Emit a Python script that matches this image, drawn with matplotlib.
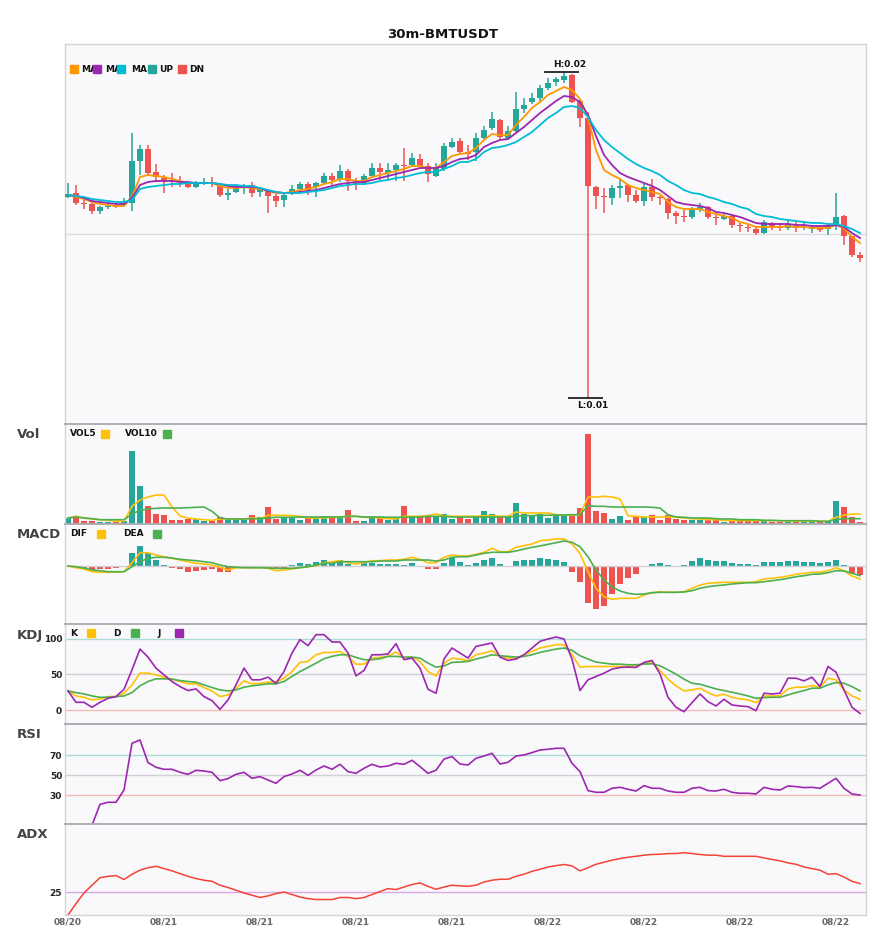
import matplotlib
matplotlib.use("Agg")
import matplotlib.pyplot as plt
import numpy as np
from matplotlib.patches import Rectangle

# ---- data: 100 x 30m candles, prices in units of 1e-5 USDT ----
tick_labels = ["08/20", "08/21", "08/21", "08/21", "08/21",
               "08/22", "08/22", "08/22", "08/22"]

open_e5 = [1611, 1623, 1593, 1590, 1569, 1581, 1584, 1587, 1593, 1719,
           1755, 1686, 1668, 1662, 1659, 1653, 1641, 1650, 1653, 1644,
           1617, 1626, 1638, 1647, 1626, 1629, 1614, 1602, 1626, 1635,
           1650, 1641, 1653, 1674, 1662, 1689, 1653, 1653, 1674, 1698,
           1683, 1692, 1707, 1707, 1725, 1704, 1674, 1695, 1761, 1779,
           1746, 1746, 1788, 1818, 1842, 1788, 1809, 1875, 1896, 1908,
           1938, 1956, 1962, 1977, 1899, 1848, 1641, 1614, 1608, 1638,
           1647, 1617, 1599, 1641, 1611, 1605, 1563, 1554, 1551, 1575,
           1581, 1551, 1545, 1554, 1527, 1521, 1515, 1503, 1533, 1524,
           1518, 1524, 1518, 1515, 1521, 1515, 1530, 1554, 1494, 1437]
close_e5 = [1620, 1593, 1590, 1569, 1581, 1584, 1581, 1593, 1719, 1755,
            1683, 1671, 1659, 1659, 1656, 1641, 1653, 1653, 1650, 1617,
            1623, 1638, 1647, 1623, 1635, 1614, 1599, 1617, 1635, 1650,
            1632, 1653, 1674, 1662, 1689, 1659, 1650, 1674, 1698, 1686,
            1692, 1707, 1704, 1728, 1704, 1680, 1701, 1764, 1776, 1746,
            1740, 1788, 1812, 1845, 1791, 1809, 1875, 1887, 1908, 1938,
            1953, 1965, 1974, 1896, 1848, 1644, 1614, 1611, 1638, 1644,
            1617, 1599, 1641, 1611, 1608, 1563, 1554, 1551, 1575, 1581,
            1551, 1548, 1554, 1527, 1524, 1518, 1503, 1536, 1521, 1518,
            1530, 1518, 1521, 1521, 1512, 1527, 1551, 1494, 1437, 1428]
high_e5 = [1653, 1647, 1608, 1593, 1584, 1593, 1593, 1608, 1803, 1767,
           1767, 1710, 1677, 1683, 1674, 1659, 1659, 1668, 1671, 1653,
           1638, 1650, 1650, 1656, 1641, 1635, 1626, 1623, 1647, 1656,
           1656, 1656, 1683, 1683, 1707, 1695, 1668, 1680, 1713, 1713,
           1713, 1713, 1758, 1743, 1740, 1713, 1713, 1773, 1788, 1788,
           1767, 1803, 1824, 1866, 1845, 1824, 1926, 1908, 1923, 1947,
           1968, 1971, 1986, 1980, 1902, 1866, 1644, 1638, 1647, 1668,
           1650, 1632, 1650, 1665, 1614, 1608, 1569, 1572, 1581, 1593,
           1584, 1560, 1560, 1557, 1536, 1530, 1521, 1542, 1536, 1533,
           1539, 1536, 1539, 1527, 1524, 1533, 1623, 1557, 1494, 1446]
low_e5 = [1608, 1587, 1575, 1560, 1560, 1575, 1578, 1581, 1569, 1677,
          1677, 1656, 1623, 1641, 1641, 1638, 1638, 1647, 1641, 1611,
          1602, 1623, 1620, 1611, 1611, 1563, 1581, 1581, 1617, 1623,
          1617, 1611, 1650, 1647, 1656, 1629, 1632, 1647, 1671, 1662,
          1662, 1659, 1659, 1701, 1701, 1656, 1671, 1689, 1758, 1737,
          1722, 1719, 1785, 1812, 1785, 1782, 1806, 1863, 1890, 1899,
          1932, 1944, 1953, 1893, 1821, 1008, 1575, 1563, 1587, 1608,
          1596, 1593, 1584, 1599, 1587, 1545, 1530, 1536, 1545, 1566,
          1545, 1527, 1542, 1518, 1506, 1506, 1497, 1500, 1512, 1509,
          1512, 1506, 1512, 1503, 1506, 1497, 1512, 1467, 1431, 1416]

ma5_e5 = [1617, 1611, 1605, 1596, 1590, 1587, 1584, 1584, 1611, 1671,
          1677, 1674, 1671, 1665, 1659, 1653, 1653, 1653, 1653, 1644,
          1638, 1638, 1641, 1638, 1635, 1629, 1623, 1623, 1626, 1632,
          1635, 1641, 1650, 1656, 1665, 1665, 1659, 1659, 1671, 1677,
          1683, 1689, 1695, 1704, 1704, 1698, 1698, 1716, 1734, 1740,
          1743, 1758, 1782, 1800, 1797, 1797, 1827, 1851, 1878, 1896,
          1917, 1929, 1941, 1932, 1905, 1851, 1752, 1692, 1677, 1665,
          1647, 1638, 1632, 1626, 1620, 1596, 1581, 1575, 1575, 1575,
          1566, 1560, 1554, 1548, 1536, 1530, 1521, 1521, 1521, 1521,
          1524, 1521, 1521, 1518, 1518, 1518, 1527, 1518, 1491, 1473]
ma10_e5 = [1617, 1614, 1608, 1599, 1596, 1593, 1590, 1590, 1608, 1647,
           1656, 1659, 1659, 1659, 1656, 1656, 1653, 1653, 1653, 1650,
           1644, 1641, 1641, 1641, 1638, 1629, 1626, 1623, 1623, 1626,
           1629, 1632, 1638, 1644, 1650, 1653, 1656, 1656, 1662, 1668,
           1674, 1680, 1686, 1692, 1698, 1698, 1698, 1704, 1716, 1725,
           1728, 1737, 1761, 1773, 1782, 1785, 1803, 1821, 1842, 1863,
           1881, 1899, 1914, 1911, 1896, 1857, 1794, 1737, 1707, 1683,
           1671, 1662, 1653, 1644, 1632, 1614, 1596, 1590, 1587, 1584,
           1578, 1566, 1563, 1557, 1551, 1542, 1533, 1530, 1530, 1530,
           1530, 1527, 1527, 1524, 1524, 1524, 1527, 1521, 1503, 1488]
ma20_e5 = [1617, 1614, 1611, 1605, 1602, 1599, 1596, 1596, 1602, 1635,
           1641, 1644, 1647, 1650, 1650, 1653, 1653, 1653, 1653, 1650,
           1647, 1647, 1644, 1644, 1638, 1632, 1626, 1623, 1623, 1623,
           1626, 1629, 1632, 1638, 1644, 1647, 1650, 1650, 1653, 1659,
           1662, 1668, 1671, 1677, 1683, 1686, 1686, 1695, 1704, 1716,
           1716, 1725, 1746, 1758, 1761, 1767, 1776, 1791, 1806, 1827,
           1848, 1863, 1881, 1884, 1878, 1851, 1812, 1782, 1761, 1743,
           1725, 1710, 1698, 1689, 1677, 1659, 1647, 1632, 1623, 1620,
           1611, 1605, 1596, 1590, 1581, 1575, 1560, 1554, 1551, 1545,
           1542, 1539, 1536, 1533, 1533, 1530, 1530, 1524, 1515, 1503]

volume = [6, 8, 3, 3, 2, 2, 2, 3, 73, 38,
          18, 10, 9, 4, 4, 5, 5, 3, 3, 7,
          4, 4, 4, 9, 7, 17, 5, 7, 7, 4,
          6, 7, 8, 8, 8, 14, 3, 3, 8, 7,
          4, 7, 18, 7, 7, 7, 7, 10, 5, 7,
          5, 7, 13, 10, 8, 8, 21, 10, 8, 10,
          6, 9, 8, 9, 16, 90, 13, 11, 5, 8,
          4, 8, 7, 9, 4, 9, 5, 4, 4, 4,
          4, 4, 2, 3, 3, 3, 3, 4, 2, 2,
          2, 2, 2, 2, 2, 3, 23, 17, 7, 2]
vol5 = [6, 7.7, 6, 5, 4.3, 3.7, 2.7, 2.7, 17.7, 24,
        27, 29, 29, 17, 8, 6, 5, 4.3, 3.7, 5,
        5, 5, 5, 6, 5.3, 8.7, 8.7, 8.7, 8.3, 7.7,
        6, 6, 6, 6.7, 6.7, 7.7, 7.7, 6.7, 6.7, 6,
        5.3, 5, 7.7, 7.7, 7.7, 8.3, 10, 8.3, 7.7, 7.7,
        7.7, 7.7, 8.3, 8.3, 7.7, 7.7, 12, 11, 11, 11,
        11, 9.3, 8.7, 8.7, 9.3, 27, 27, 27.7, 27, 25,
        8.3, 7.7, 7, 7, 7, 7, 6.7, 6, 5.3, 5,
        4.3, 4.3, 3.7, 3.3, 3.3, 3.3, 3.3, 3.3, 3.3, 3.3,
        2.7, 2.7, 2.7, 2.7, 2.7, 2.7, 6.7, 8.7, 10, 10]
vol10 = [6, 7, 6, 5.3, 4.3, 4.3, 4.3, 4.3, 10, 13.7,
         15, 15.7, 16, 16, 16, 16.3, 16.7, 17, 12.7, 6,
         5, 5, 5, 5.3, 5.3, 6, 6.7, 6.7, 6.7, 7,
         7, 7, 7, 7, 7, 7.7, 7.7, 7, 7, 7,
         6.7, 6.7, 6.7, 7, 7, 7.7, 7.7, 7.7, 7, 7,
         7, 7, 7, 7, 7, 7, 7.7, 8.3, 8.3, 8.7,
         8.7, 9, 9, 9.3, 9.3, 18.3, 17.7, 17.7, 17, 17,
         17, 17, 17, 16.7, 16, 9.3, 7, 6.7, 6, 6,
         6, 5.3, 5, 5, 4.3, 4.3, 4.3, 3.7, 3.7, 3.3,
         3.3, 3.3, 3.3, 3.3, 2.7, 2.7, 4.3, 5.3, 5.3, 5.3]

macd_hist = [0, -2.3, -3.3, -4, -3.3, -2.7, -1.7, 0, 13.3, 20,
             13.3, 6, 1, -1.7, -3.3, -5.7, -4.7, -4, -3.3, -5.7,
             -5.7, -1.7, -1.7, -1.7, -1.7, -2.3, -2.3, -1.7, 1, 2.7,
             2, 3.7, 6, 3.3, 6, 2, -0.7, 2.7, 2.7, 2,
             2, 2, 1, 3.3, 0, -3.3, -3.3, 2.7, 7.7, 3.7,
             1, 2.7, 6, 7.7, 1.7, 0, 5, 6, 6, 7.7,
             6.7, 6, 3.7, -5.7, -15.7, -37.3, -43.3, -39.7, -28.3, -18.3,
             -12.3, -8.3, 0, 2, 3.3, 1, 0, 0.7, 5, 8.3,
             6, 5, 5, 3.3, 2, 2, 1, 4, 4, 4,
             5, 5, 4, 4, 3.3, 4, 6, 1, -7.3, -9]
dif = [0, -1.7, -3, -5.7, -6.3, -6.3, -6.3, -5.7, 3.3, 13.3,
       13.3, 11, 9.3, 7.7, 6, 4.3, 2.7, 2, 1, -1.3,
       -4, -1.7, -1.7, -1.7, -1.7, -2.3, -4.7, -4, -3, -1.7,
       -0.7, 0.3, 3.3, 4.3, 5.3, 3.3, 2, 3.3, 5.3, 5.3,
       6, 6, 6.7, 8.7, 6.7, 3.3, 3.3, 8.7, 11, 10,
       10, 11.7, 13.7, 17.7, 14.3, 14.3, 18.7, 20.3, 22, 25.3,
       26, 27, 27, 22, 12.7, -5.7, -22.3, -30.7, -33.3, -32.3,
       -32.3, -32.3, -29, -26.7, -25.7, -26.3, -26.3, -25.7, -22.3, -19,
       -17.3, -16.7, -16.3, -16.3, -16.3, -16.3, -15.7, -13, -12.3, -11.3,
       -10, -8.3, -7.3, -6.3, -6.3, -4.7, -1.7, -4.7, -10, -13]
dea = [0, -0.7, -2, -4, -4.7, -5.7, -5.7, -5.7, -0.7, 4.3,
       7.7, 8.7, 8.7, 8, 6.7, 6, 5.3, 4.3, 3.3, 1,
       -0.7, -1.3, -1.7, -1.7, -1.7, -2, -2.3, -2.3, -2.3, -1.7,
       -0.7, 1, 2.7, 2.7, 4.3, 4.3, 4.3, 4.3, 4.3, 5,
       5, 5, 6, 6, 6, 6, 5, 6, 8.7, 9.3,
       9.3, 11, 12.7, 13.7, 13.7, 13.7, 15, 17, 18.7, 20,
       21.7, 23.3, 25, 23.7, 19.3, 9.3, -4, -14, -20.7, -25,
       -27.3, -28.3, -28, -26.7, -26.3, -26.3, -26.3, -26, -24.7, -22.3,
       -20.7, -19.7, -19, -18, -17.3, -16.7, -16.7, -15.7, -14.7, -13.7,
       -12.3, -10.7, -9.7, -8.3, -8, -6.7, -4.7, -5, -7.3, -9.7]

k_line = [26.9, 19.8, 17.9, 14.2, 15.6, 18.9, 18.9, 23.6, 35.4, 51.9,
          51.9, 49.5, 46.2, 43.4, 40.1, 36.8, 36.8, 31.6, 26.9, 18.9,
          21.2, 30.7, 41, 36.8, 37.7, 39.2, 39.2, 44.8, 54.2, 67,
          68.4, 77.8, 81.1, 81.1, 82.5, 75.5, 64.6, 64.6, 73.1, 74.1,
          75.5, 81.6, 73.1, 74.5, 68.4, 54.2, 48.1, 66, 73.1, 71.7,
          69.3, 77.8, 80.2, 83.5, 76.4, 73.1, 73.1, 77.8, 82.5, 87.3,
          89.6, 92, 92, 77.8, 60.4, 61.3, 61.3, 61.3, 61.3, 61.3,
          61.3, 62.3, 65.1, 67, 55.7, 43.4, 34, 26.9, 28.3, 30.7,
          24.5, 19.8, 22.2, 17.9, 15.6, 14.2, 10.4, 19.8, 19.8, 19.8,
          29.7, 32.1, 32.1, 34.4, 32.1, 44.8, 42.5, 28.3, 19.8, 15.1]
d_line = [26.9, 24.5, 22.6, 19.8, 17.9, 17.9, 18.9, 19.8, 24.5, 34,
          40.1, 43.9, 43.9, 43.4, 41.5, 40.1, 39.2, 35.4, 31.6, 28.3,
          26.9, 28.3, 32.1, 34, 35.4, 36.8, 36.8, 40.1, 47.2, 54.2,
          59.9, 66, 72.2, 75.5, 77.8, 77.8, 74.1, 70.8, 70.8, 72.2,
          75.5, 75.5, 74.5, 74.5, 73.1, 66, 60.4, 62, 67, 67.5,
          68.4, 71.7, 74.5, 77.8, 76.4, 75.5, 74.5, 75.5, 77.8, 81.1,
          83.5, 85.8, 87.3, 84, 76.4, 71.7, 67.5, 66, 64.6, 64.6,
          63.7, 63.7, 64.6, 65.1, 62.3, 56.6, 50.5, 43.4, 37.7, 36.3,
          33, 29.7, 27.4, 25, 22.6, 19.8, 16.5, 17.5, 17.9, 17.9,
          21.2, 24.5, 27.4, 30.7, 30.7, 35.4, 38.7, 37.7, 33, 26.9]
j_line = [26.9, 10.8, 10.8, 3.8, 10.8, 16.5, 18.9, 29.2, 56.6, 85.8,
          74.5, 59, 49.5, 40.1, 33, 27.4, 29.7, 18.9, 13.2, 0.9,
          14.2, 35.4, 59, 42.5, 42.5, 46.2, 37.7, 54.2, 80.2, 99.1,
          90.6, 106.1, 106.1, 95.8, 95.8, 80.2, 48.1, 55.7, 77.8, 77.8,
          78.8, 93.4, 70.8, 73.1, 59, 29.2, 23.6, 72, 87.3, 80.2,
          73.1, 89.6, 92, 94.3, 74.5, 69.8, 71.7, 77.8, 87.3, 96.7,
          100, 102.8, 100, 71.7, 27.4, 42.5, 47.2, 51.9, 57.5, 59.9,
          60.4, 59.9, 67, 69.8, 50.9, 17.9, 3.8, -2.4, 10.4, 22.6,
          11.8, 5.7, 15.1, 7.1, 5.7, 4.7, -0.9, 23.6, 22.6, 23.6,
          44.8, 44.8, 41, 46.2, 33, 61.3, 53.3, 28.3, 3.8, -4.7]

rsi = [0, 0, 0, 0, 21, 23, 23, 35.3, 82, 85.3,
       62.7, 58, 56, 56, 53, 51, 55, 54.3, 53, 44.7,
       46.7, 51, 53, 47, 48.7, 45.3, 42, 48.7, 51.3, 55,
       50, 55.3, 59.3, 56, 61, 53.7, 52, 57, 61, 58.3,
       59.3, 62, 61, 65, 58.7, 52, 55, 66.3, 68.7, 61.3,
       60.3, 67, 69.3, 72, 61.3, 63, 69.3, 70.3, 72.7, 75.3,
       76, 77, 77, 62, 53.7, 34.7, 33, 33, 37, 38,
       36, 34.3, 39.7, 37, 37, 34.3, 33, 33, 37, 38,
       34.7, 34.3, 36, 33, 32, 32, 31.3, 38, 36, 35.3,
       39.3, 38.7, 37.7, 38, 37, 42, 47, 37, 31.3, 30.3]
adx = [15, 20, 24.7, 28.1, 31.4, 32, 32.3, 30.6, 32.9, 34.7,
       35.8, 36.4, 35.4, 34.4, 33.2, 32, 31, 30.3, 29.8, 28.1,
       27.1, 25.9, 24.7, 23.7, 22.7, 23.4, 24.4, 25.1, 24, 22.9,
       22.2, 21.8, 21.8, 21.8, 22.7, 22.7, 22.2, 22.7, 24, 25.3,
       26.6, 26.2, 27.3, 28.4, 29.1, 27.6, 26.3, 27.3, 28.1, 27.8,
       27.6, 28.1, 29.5, 30.3, 30.7, 30.7, 32, 32.9, 34.2, 35.1,
       36.1, 36.7, 37.2, 36.6, 34.4, 35.8, 37.3, 38.2, 39.1, 39.8,
       40.4, 40.8, 41.3, 41.6, 41.7, 42, 42, 42.4, 42, 41.6,
       41.3, 41.3, 40.8, 40.8, 40.8, 40.8, 40.8, 40.1, 39.4, 38.8,
       37.9, 37.3, 36.1, 35.4, 34.7, 32.9, 33.2, 31.7, 29.8, 28.8]

# ---- styling ----
UP, DN = "#26a69a", "#ef5350"
C_MA5, C_MA10, C_MA20 = "#ff9800", "#9c27b0", "#00bcd4"
C_YEL, C_GRN, C_PUR = "#ffc107", "#4caf50", "#9c27b0"
W, H = 885, 950

o = np.array(open_e5) * 1e-5
c = np.array(close_e5) * 1e-5
hi = np.array(high_e5) * 1e-5
lo = np.array(low_e5) * 1e-5
n = len(o)
x = np.arange(n)
colors = np.where(c >= o, UP, DN)


def fx(px):
    return px / W


def fy(py):
    return 1 - py / H


def panel(top, bottom):
    ax = fig.add_axes([fx(65), fy(bottom), (866 - 65) / W, (bottom - top) / H])
    ax.set_facecolor("#f9f9fb")
    for s in ax.spines.values():
        s.set_color("#d4d4d8")
        s.set_linewidth(1)
    ax.set_xlim(-0.375, n - 0.25)
    ax.set_xticks(np.arange(0, n, 12))
    ax.tick_params(length=0, pad=2, labelsize=6.5, labelbottom=False)
    ax.set_yticks([])
    return ax


fig = plt.figure(figsize=(W / 100, H / 100), dpi=100)
fig.patch.set_facecolor("white")

ax_p = panel(44, 424)
ax_v = panel(424, 524)
ax_m = panel(524, 624)
ax_k = panel(624, 724)
ax_r = panel(724, 824)
ax_a = panel(824, 915)
for ax in (ax_v, ax_m, ax_k, ax_r, ax_a):
    ax.spines["top"].set_color("#a9a9ae")
    ax.spines["top"].set_linewidth(1.3)

# price panel
ax_p.set_ylim(930e-5, 2070e-5)
ax_p.set_yticks([0.015])
ax_p.tick_params(labelleft=False)
ax_p.yaxis.grid(True, color="#dcdcdf", lw=1)
ax_p.set_axisbelow(True)
ax_p.vlines(x, lo, hi, colors=colors, lw=1.1, zorder=2)
body = np.maximum(np.abs(c - o), 3e-5)
ax_p.bar(x, body, 0.75, bottom=np.minimum(o, c), color=colors, lw=0, zorder=3)
ax_p.plot(x, np.array(ma5_e5) * 1e-5, color=C_MA5, lw=1.3, zorder=4)
ax_p.plot(x, np.array(ma10_e5) * 1e-5, color=C_MA10, lw=1.3, zorder=4)
ax_p.plot(x, np.array(ma20_e5) * 1e-5, color=C_MA20, lw=1.3, zorder=4)

ih, il = int(np.argmax(hi)), int(np.argmin(lo))
ax_p.hlines(hi[ih], ih - 2.5, ih + 1.9, color="#111", lw=1.2, zorder=5)
ax_p.annotate(f"H:{hi[ih]:.2f}", (ih - 1.4, hi[ih]), xytext=(0, 2),
              textcoords="offset points", ha="left", va="bottom",
              fontsize=6.5, fontweight="bold", color="#111")
ax_p.hlines(lo[il], il - 2.5, il + 1.9, color="#111", lw=1.2, zorder=5)
ax_p.annotate(f"L:{lo[il]:.2f}", (il - 1.4, lo[il]), xytext=(0, -2),
              textcoords="offset points", ha="left", va="top",
              fontsize=6.5, fontweight="bold", color="#111")

# volume
ax_v.set_ylim(0, 100)
ax_v.bar(x, volume, 0.75, color=colors, lw=0)
ax_v.plot(x, vol5, color=C_YEL, lw=1.2)
ax_v.plot(x, vol10, color=C_GRN, lw=1.2)

# macd
ax_m.set_ylim(-58, 42)
ax_m.axhline(0, color="#d2d2d6", lw=1)
hist = np.array(macd_hist)
ax_m.bar(x, hist, 0.75, color=np.where(hist >= 0, UP, DN), lw=0)
ax_m.plot(x, dif, color=C_YEL, lw=1.2)
ax_m.plot(x, dea, color=C_GRN, lw=1.2)

ylab = dict(fontsize=6.5, fontweight="bold", color="#222")

# kdj
ax_k.set_ylim(-19.7, 121.1)
ax_k.axhline(100, color="#a9dcd6", lw=1)
ax_k.axhline(50, color="#d0d0d4", lw=1)
ax_k.axhline(0, color="#f6b8b8", lw=1)
ax_k.plot(x, k_line, color=C_YEL, lw=1.2)
ax_k.plot(x, d_line, color=C_GRN, lw=1.2)
ax_k.plot(x, j_line, color=C_PUR, lw=1.2)
ax_k.set_yticks([0, 50, 100])
ax_k.set_yticklabels(["0", "50", "100"], **ylab)

# rsi
ax_r.set_ylim(1.3, 101.3)
ax_r.axhline(70, color="#a9dcd6", lw=1)
ax_r.axhline(50, color="#d0d0d4", lw=1)
ax_r.axhline(30, color="#f6b8b8", lw=1)
ax_r.plot(x, rsi, color=C_PUR, lw=1.2)
ax_r.set_yticks([30, 50, 70])
ax_r.set_yticklabels(["30", "50", "70"], **ylab)

# adx
ax_a.set_ylim(15, 55)
ax_a.axhline(25, color="#dba8e6", lw=1)
ax_a.plot(x, adx, color="#f44336", lw=1.1)
ax_a.set_yticks([25])
ax_a.set_yticklabels(["25"], **ylab)
ax_a.tick_params(labelbottom=True)
ax_a.set_xticklabels(tick_labels, fontsize=6.5, fontweight="bold", color="#666")

# titles and legends
fig.text(fx(443), fy(34), "30m-BMTUSDT", ha="center", va="center",
         fontsize=9.5, fontweight="bold", color="#111")
for name, py in [("Vol", 435), ("MACD", 535), ("KDJ", 635), ("RSI", 735), ("ADX", 835)]:
    fig.text(fx(17), fy(py), name, ha="left", va="center",
             fontsize=9.5, fontweight="bold", color="#444")


def legend(py, texts, squares):
    for tx, label in texts:
        fig.text(fx(tx), fy(py), label, ha="left", va="center", fontsize=6.5,
                 fontweight="bold", color="#111", zorder=4)
    for sx, col in squares:
        fig.add_artist(Rectangle((fx(sx), fy(py + 4)), 8 / W, 8 / H,
                                 transform=fig.transFigure, color=col, zorder=5))


legend(69, [(81, "MA"), (105, "MA"), (131, "MA"), (159, "UP"), (189, "DN")],
       [(70, C_MA5), (93, C_MA10), (117, C_MA20), (148, UP), (178, DN)])
legend(434, [(70, "VOL5"), (125, "VOL10")], [(101, C_YEL), (163, C_GRN)])
legend(534, [(70, "DIF"), (123, "DEA")], [(97, C_YEL), (153, C_GRN)])
legend(633, [(70, "K"), (113, "D"), (157, "J")],
       [(87, C_YEL), (131, C_GRN), (175, C_PUR)])

fig.savefig("out.png", dpi=100, facecolor="white")
